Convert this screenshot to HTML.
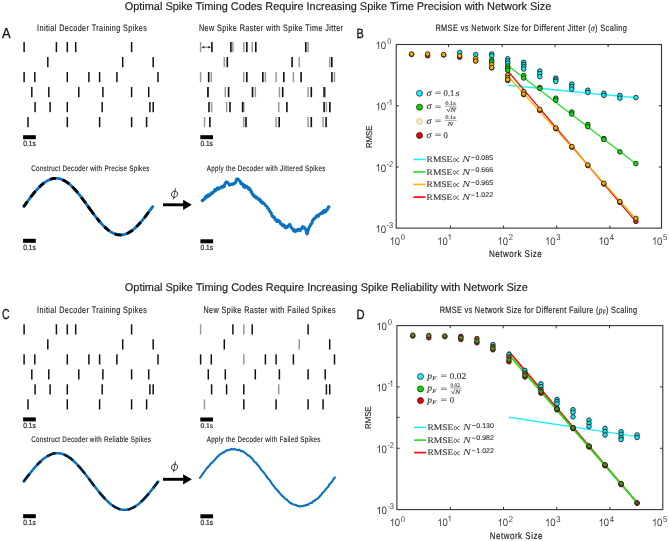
<!DOCTYPE html>
<html><head><meta charset="utf-8"><style>
html,body{margin:0;padding:0;background:#fff;}
svg{display:block;will-change:transform;text-rendering:geometricPrecision;}
</style></head><body>
<svg width="669" height="541" viewBox="0 0 669 541">
<rect width="669" height="541" fill="#fff"/>
<text x="0" y="0" transform="translate(124.8 9.6) scale(1.0 1.12)" font-family="Liberation Sans" font-size="10.0" text-anchor="start" fill="#1e1e1e" textLength="426.5" lengthAdjust="spacingAndGlyphs" stroke="#1e1e1e" stroke-width="0.15">Optimal Spike Timing Codes Require Increasing Spike Time Precision with Network Size</text>
<text x="0" y="0" transform="translate(124.8 290.9) scale(1.0 1.12)" font-family="Liberation Sans" font-size="10.0" text-anchor="start" fill="#1e1e1e" textLength="403" lengthAdjust="spacingAndGlyphs" stroke="#1e1e1e" stroke-width="0.15">Optimal Spike Timing Codes Require Increasing Spike Reliability with Network Size</text>
<text x="2.0" y="38.0" font-family="Liberation Sans" font-size="14.4" text-anchor="start" fill="#111" textLength="8.6" lengthAdjust="spacingAndGlyphs" stroke="#111" stroke-width="0.3">A</text>
<text x="356.6" y="37.7" font-family="Liberation Sans" font-size="13.4" text-anchor="start" fill="#111" textLength="7.3" lengthAdjust="spacingAndGlyphs" stroke="#111" stroke-width="0.3">B</text>
<text x="2.1" y="319.1" font-family="Liberation Sans" font-size="14.4" text-anchor="start" fill="#111" textLength="7.6" lengthAdjust="spacingAndGlyphs" stroke="#111" stroke-width="0.3">C</text>
<text x="356.6" y="318.9" font-family="Liberation Sans" font-size="13.4" text-anchor="start" fill="#111" textLength="8.1" lengthAdjust="spacingAndGlyphs" stroke="#111" stroke-width="0.3">D</text>
<text x="0" y="0" transform="translate(37.1 30.8) scale(0.88 1.14)" font-family="Liberation Sans" font-size="8.2" text-anchor="start" fill="#1a1a1a" textLength="124.66" lengthAdjust="spacing" stroke="#1a1a1a" stroke-width="0.12">Initial Decoder Training Spikes</text>
<text x="0" y="0" transform="translate(199 31.2) scale(0.88 1.14)" font-family="Liberation Sans" font-size="8.2" text-anchor="start" fill="#1a1a1a" textLength="163.64" lengthAdjust="spacing" stroke="#1a1a1a" stroke-width="0.12">New Spike Raster with Spike Time Jitter</text>
<text x="0" y="0" transform="translate(37.1 312.9) scale(0.88 1.14)" font-family="Liberation Sans" font-size="8.2" text-anchor="start" fill="#1a1a1a" textLength="124.66" lengthAdjust="spacing" stroke="#1a1a1a" stroke-width="0.12">Initial Decoder Training Spikes</text>
<text x="0" y="0" transform="translate(203.5 313.2) scale(0.88 1.14)" font-family="Liberation Sans" font-size="8.2" text-anchor="start" fill="#1a1a1a" textLength="150.00" lengthAdjust="spacing" stroke="#1a1a1a" stroke-width="0.12">New Spike Raster with Failed Spikes</text>
<text x="0" y="0" transform="translate(31.2 171.3) scale(0.88 1.13)" font-family="Liberation Sans" font-size="7.1" text-anchor="start" fill="#1a1a1a" textLength="134.32" lengthAdjust="spacing" stroke="#1a1a1a" stroke-width="0.12">Construct Decoder with Precise Spikes</text>
<text x="0" y="0" transform="translate(206.8 171.3) scale(0.88 1.13)" font-family="Liberation Sans" font-size="7.1" text-anchor="start" fill="#1a1a1a" textLength="134.77" lengthAdjust="spacing" stroke="#1a1a1a" stroke-width="0.12">Apply the Decoder with Jittered Spikes</text>
<text x="0" y="0" transform="translate(31.2 441.7) scale(0.88 1.13)" font-family="Liberation Sans" font-size="7.1" text-anchor="start" fill="#1a1a1a" textLength="136.02" lengthAdjust="spacing" stroke="#1a1a1a" stroke-width="0.12">Construct Decoder with Reliable Spikes</text>
<text x="0" y="0" transform="translate(206.8 441.7) scale(0.88 1.13)" font-family="Liberation Sans" font-size="7.1" text-anchor="start" fill="#1a1a1a" textLength="129.20" lengthAdjust="spacing" stroke="#1a1a1a" stroke-width="0.12">Apply the Decoder with Failed Spikes</text>
<rect x="23.35" y="42.00" width="1.5" height="10.2" fill="#111"/>
<rect x="55.65" y="42.00" width="1.5" height="10.2" fill="#111"/>
<rect x="66.55" y="42.00" width="1.5" height="10.2" fill="#111"/>
<rect x="74.95" y="42.00" width="1.5" height="10.2" fill="#111"/>
<rect x="130.85" y="42.00" width="1.5" height="10.2" fill="#111"/>
<rect x="47.05" y="57.00" width="1.5" height="10.2" fill="#111"/>
<rect x="121.95" y="57.00" width="1.5" height="10.2" fill="#111"/>
<rect x="152.45" y="57.00" width="1.5" height="10.2" fill="#111"/>
<rect x="23.35" y="72.00" width="1.5" height="10.2" fill="#111"/>
<rect x="34.05" y="72.00" width="1.5" height="10.2" fill="#111"/>
<rect x="66.55" y="72.00" width="1.5" height="10.2" fill="#111"/>
<rect x="88.15" y="72.00" width="1.5" height="10.2" fill="#111"/>
<rect x="98.85" y="72.00" width="1.5" height="10.2" fill="#111"/>
<rect x="116.15" y="72.00" width="1.5" height="10.2" fill="#111"/>
<rect x="157.25" y="72.00" width="1.5" height="10.2" fill="#111"/>
<rect x="31.05" y="87.00" width="1.5" height="10.2" fill="#111"/>
<rect x="48.05" y="87.00" width="1.5" height="10.2" fill="#111"/>
<rect x="78.05" y="87.00" width="1.5" height="10.2" fill="#111"/>
<rect x="102.15" y="87.00" width="1.5" height="10.2" fill="#111"/>
<rect x="130.85" y="87.00" width="1.5" height="10.2" fill="#111"/>
<rect x="147.95" y="87.00" width="1.5" height="10.2" fill="#111"/>
<rect x="34.35" y="102.00" width="1.5" height="10.2" fill="#111"/>
<rect x="49.35" y="102.00" width="1.5" height="10.2" fill="#111"/>
<rect x="66.55" y="102.00" width="1.5" height="10.2" fill="#111"/>
<rect x="101.45" y="102.00" width="1.5" height="10.2" fill="#111"/>
<rect x="149.15" y="102.00" width="1.5" height="10.2" fill="#111"/>
<rect x="152.45" y="102.00" width="1.5" height="10.2" fill="#111"/>
<rect x="27.25" y="117.00" width="1.5" height="10.2" fill="#111"/>
<rect x="66.55" y="117.00" width="1.5" height="10.2" fill="#111"/>
<rect x="98.85" y="117.00" width="1.5" height="10.2" fill="#111"/>
<rect x="130.85" y="117.00" width="1.5" height="10.2" fill="#111"/>
<rect x="145.85" y="117.00" width="1.5" height="10.2" fill="#111"/>
<rect x="199.85" y="42.00" width="1.5" height="10.2" fill="#9a9a9a"/>
<rect x="232.15" y="42.00" width="1.5" height="10.2" fill="#9a9a9a"/>
<rect x="243.05" y="42.00" width="1.5" height="10.2" fill="#9a9a9a"/>
<rect x="251.45" y="42.00" width="1.5" height="10.2" fill="#9a9a9a"/>
<rect x="307.35" y="42.00" width="1.5" height="10.2" fill="#9a9a9a"/>
<rect x="211.10" y="42.00" width="1.6" height="10.2" fill="#111"/>
<rect x="230.10" y="42.00" width="1.6" height="10.2" fill="#111"/>
<rect x="246.00" y="42.00" width="1.6" height="10.2" fill="#111"/>
<rect x="255.00" y="42.00" width="1.6" height="10.2" fill="#111"/>
<rect x="305.00" y="42.00" width="1.6" height="10.2" fill="#111"/>
<rect x="223.55" y="57.00" width="1.5" height="10.2" fill="#9a9a9a"/>
<rect x="298.45" y="57.00" width="1.5" height="10.2" fill="#9a9a9a"/>
<rect x="328.95" y="57.00" width="1.5" height="10.2" fill="#9a9a9a"/>
<rect x="226.50" y="57.00" width="1.6" height="10.2" fill="#111"/>
<rect x="291.30" y="57.00" width="1.6" height="10.2" fill="#111"/>
<rect x="331.00" y="57.00" width="1.6" height="10.2" fill="#111"/>
<rect x="199.85" y="72.00" width="1.5" height="10.2" fill="#9a9a9a"/>
<rect x="210.55" y="72.00" width="1.5" height="10.2" fill="#9a9a9a"/>
<rect x="243.05" y="72.00" width="1.5" height="10.2" fill="#9a9a9a"/>
<rect x="264.65" y="72.00" width="1.5" height="10.2" fill="#9a9a9a"/>
<rect x="275.35" y="72.00" width="1.5" height="10.2" fill="#9a9a9a"/>
<rect x="292.65" y="72.00" width="1.5" height="10.2" fill="#9a9a9a"/>
<rect x="333.75" y="72.00" width="1.5" height="10.2" fill="#9a9a9a"/>
<rect x="207.90" y="72.00" width="1.6" height="10.2" fill="#111"/>
<rect x="246.00" y="72.00" width="1.6" height="10.2" fill="#111"/>
<rect x="262.00" y="72.00" width="1.6" height="10.2" fill="#111"/>
<rect x="283.00" y="72.00" width="1.6" height="10.2" fill="#111"/>
<rect x="300.30" y="72.00" width="1.6" height="10.2" fill="#111"/>
<rect x="331.10" y="72.00" width="1.6" height="10.2" fill="#111"/>
<rect x="207.55" y="87.00" width="1.5" height="10.2" fill="#9a9a9a"/>
<rect x="224.55" y="87.00" width="1.5" height="10.2" fill="#9a9a9a"/>
<rect x="254.55" y="87.00" width="1.5" height="10.2" fill="#9a9a9a"/>
<rect x="278.65" y="87.00" width="1.5" height="10.2" fill="#9a9a9a"/>
<rect x="307.35" y="87.00" width="1.5" height="10.2" fill="#9a9a9a"/>
<rect x="324.45" y="87.00" width="1.5" height="10.2" fill="#9a9a9a"/>
<rect x="207.10" y="87.00" width="1.6" height="10.2" fill="#111"/>
<rect x="227.80" y="87.00" width="1.6" height="10.2" fill="#111"/>
<rect x="251.70" y="87.00" width="1.6" height="10.2" fill="#111"/>
<rect x="281.90" y="87.00" width="1.6" height="10.2" fill="#111"/>
<rect x="310.50" y="87.00" width="1.6" height="10.2" fill="#111"/>
<rect x="323.30" y="87.00" width="1.6" height="10.2" fill="#111"/>
<rect x="210.85" y="102.00" width="1.5" height="10.2" fill="#9a9a9a"/>
<rect x="225.85" y="102.00" width="1.5" height="10.2" fill="#9a9a9a"/>
<rect x="243.05" y="102.00" width="1.5" height="10.2" fill="#9a9a9a"/>
<rect x="277.95" y="102.00" width="1.5" height="10.2" fill="#9a9a9a"/>
<rect x="325.65" y="102.00" width="1.5" height="10.2" fill="#9a9a9a"/>
<rect x="328.95" y="102.00" width="1.5" height="10.2" fill="#9a9a9a"/>
<rect x="208.20" y="102.00" width="1.6" height="10.2" fill="#111"/>
<rect x="229.20" y="102.00" width="1.6" height="10.2" fill="#111"/>
<rect x="241.80" y="102.00" width="1.6" height="10.2" fill="#111"/>
<rect x="286.10" y="102.00" width="1.6" height="10.2" fill="#111"/>
<rect x="323.30" y="102.00" width="1.6" height="10.2" fill="#111"/>
<rect x="329.00" y="102.00" width="1.6" height="10.2" fill="#111"/>
<rect x="203.75" y="117.00" width="1.5" height="10.2" fill="#9a9a9a"/>
<rect x="243.05" y="117.00" width="1.5" height="10.2" fill="#9a9a9a"/>
<rect x="275.35" y="117.00" width="1.5" height="10.2" fill="#9a9a9a"/>
<rect x="307.35" y="117.00" width="1.5" height="10.2" fill="#9a9a9a"/>
<rect x="322.35" y="117.00" width="1.5" height="10.2" fill="#9a9a9a"/>
<rect x="209.10" y="117.00" width="1.6" height="10.2" fill="#111"/>
<rect x="245.20" y="117.00" width="1.6" height="10.2" fill="#111"/>
<rect x="278.40" y="117.00" width="1.6" height="10.2" fill="#111"/>
<rect x="310.50" y="117.00" width="1.6" height="10.2" fill="#111"/>
<rect x="325.30" y="117.00" width="1.6" height="10.2" fill="#111"/>
<line x1="203.2" y1="47.2" x2="209.4" y2="47.2" stroke="#333" stroke-width="0.75"/>
<path d="M201.7,47.2 L204.2,46.0 L204.2,48.4 Z M210.9,47.2 L208.4,46.0 L208.4,48.4 Z" fill="#111"/>
<rect x="23.35" y="324.30" width="1.5" height="10.2" fill="#111"/>
<rect x="55.65" y="324.30" width="1.5" height="10.2" fill="#111"/>
<rect x="66.55" y="324.30" width="1.5" height="10.2" fill="#111"/>
<rect x="74.95" y="324.30" width="1.5" height="10.2" fill="#111"/>
<rect x="130.85" y="324.30" width="1.5" height="10.2" fill="#111"/>
<rect x="47.05" y="339.30" width="1.5" height="10.2" fill="#111"/>
<rect x="121.95" y="339.30" width="1.5" height="10.2" fill="#111"/>
<rect x="152.45" y="339.30" width="1.5" height="10.2" fill="#111"/>
<rect x="23.35" y="354.30" width="1.5" height="10.2" fill="#111"/>
<rect x="34.05" y="354.30" width="1.5" height="10.2" fill="#111"/>
<rect x="66.55" y="354.30" width="1.5" height="10.2" fill="#111"/>
<rect x="88.15" y="354.30" width="1.5" height="10.2" fill="#111"/>
<rect x="98.85" y="354.30" width="1.5" height="10.2" fill="#111"/>
<rect x="116.15" y="354.30" width="1.5" height="10.2" fill="#111"/>
<rect x="157.25" y="354.30" width="1.5" height="10.2" fill="#111"/>
<rect x="31.05" y="369.30" width="1.5" height="10.2" fill="#111"/>
<rect x="48.05" y="369.30" width="1.5" height="10.2" fill="#111"/>
<rect x="78.05" y="369.30" width="1.5" height="10.2" fill="#111"/>
<rect x="102.15" y="369.30" width="1.5" height="10.2" fill="#111"/>
<rect x="130.85" y="369.30" width="1.5" height="10.2" fill="#111"/>
<rect x="147.95" y="369.30" width="1.5" height="10.2" fill="#111"/>
<rect x="34.35" y="384.30" width="1.5" height="10.2" fill="#111"/>
<rect x="49.35" y="384.30" width="1.5" height="10.2" fill="#111"/>
<rect x="66.55" y="384.30" width="1.5" height="10.2" fill="#111"/>
<rect x="101.45" y="384.30" width="1.5" height="10.2" fill="#111"/>
<rect x="149.15" y="384.30" width="1.5" height="10.2" fill="#111"/>
<rect x="152.45" y="384.30" width="1.5" height="10.2" fill="#111"/>
<rect x="27.25" y="399.30" width="1.5" height="10.2" fill="#111"/>
<rect x="66.55" y="399.30" width="1.5" height="10.2" fill="#111"/>
<rect x="98.85" y="399.30" width="1.5" height="10.2" fill="#111"/>
<rect x="130.85" y="399.30" width="1.5" height="10.2" fill="#111"/>
<rect x="145.85" y="399.30" width="1.5" height="10.2" fill="#111"/>
<rect x="199.85" y="324.30" width="1.5" height="10.2" fill="#9a9a9a"/>
<rect x="232.15" y="324.30" width="1.5" height="10.2" fill="#111"/>
<rect x="243.05" y="324.30" width="1.5" height="10.2" fill="#9a9a9a"/>
<rect x="251.45" y="324.30" width="1.5" height="10.2" fill="#111"/>
<rect x="307.35" y="324.30" width="1.5" height="10.2" fill="#111"/>
<rect x="223.55" y="339.30" width="1.5" height="10.2" fill="#111"/>
<rect x="298.45" y="339.30" width="1.5" height="10.2" fill="#9a9a9a"/>
<rect x="328.95" y="339.30" width="1.5" height="10.2" fill="#111"/>
<rect x="199.85" y="354.30" width="1.5" height="10.2" fill="#111"/>
<rect x="210.55" y="354.30" width="1.5" height="10.2" fill="#111"/>
<rect x="243.05" y="354.30" width="1.5" height="10.2" fill="#9a9a9a"/>
<rect x="264.65" y="354.30" width="1.5" height="10.2" fill="#111"/>
<rect x="275.35" y="354.30" width="1.5" height="10.2" fill="#111"/>
<rect x="292.65" y="354.30" width="1.5" height="10.2" fill="#111"/>
<rect x="333.75" y="354.30" width="1.5" height="10.2" fill="#111"/>
<rect x="207.55" y="369.30" width="1.5" height="10.2" fill="#111"/>
<rect x="224.55" y="369.30" width="1.5" height="10.2" fill="#111"/>
<rect x="254.55" y="369.30" width="1.5" height="10.2" fill="#111"/>
<rect x="278.65" y="369.30" width="1.5" height="10.2" fill="#111"/>
<rect x="307.35" y="369.30" width="1.5" height="10.2" fill="#111"/>
<rect x="324.45" y="369.30" width="1.5" height="10.2" fill="#111"/>
<rect x="210.85" y="384.30" width="1.5" height="10.2" fill="#111"/>
<rect x="225.85" y="384.30" width="1.5" height="10.2" fill="#111"/>
<rect x="243.05" y="384.30" width="1.5" height="10.2" fill="#111"/>
<rect x="277.95" y="384.30" width="1.5" height="10.2" fill="#9a9a9a"/>
<rect x="325.65" y="384.30" width="1.5" height="10.2" fill="#111"/>
<rect x="328.95" y="384.30" width="1.5" height="10.2" fill="#111"/>
<rect x="203.75" y="399.30" width="1.5" height="10.2" fill="#9a9a9a"/>
<rect x="243.05" y="399.30" width="1.5" height="10.2" fill="#111"/>
<rect x="275.35" y="399.30" width="1.5" height="10.2" fill="#111"/>
<rect x="307.35" y="399.30" width="1.5" height="10.2" fill="#111"/>
<rect x="322.35" y="399.30" width="1.5" height="10.2" fill="#111"/>
<rect x="23.1" y="135.2" width="12.7" height="4" fill="#000"/>
<text x="0" y="0" transform="translate(23.200000000000003 146.0) scale(1.0 1.1)" font-family="Liberation Sans" font-size="6.9" text-anchor="start" fill="#1a1a1a" textLength="12.5" lengthAdjust="spacingAndGlyphs" stroke="#1a1a1a" stroke-width="0.15">0.1s</text>
<rect x="200.3" y="135.2" width="12.7" height="4" fill="#000"/>
<text x="0" y="0" transform="translate(200.4 146.0) scale(1.0 1.1)" font-family="Liberation Sans" font-size="6.9" text-anchor="start" fill="#1a1a1a" textLength="12.5" lengthAdjust="spacingAndGlyphs" stroke="#1a1a1a" stroke-width="0.15">0.1s</text>
<rect x="23.1" y="238.8" width="12.7" height="4" fill="#000"/>
<text x="0" y="0" transform="translate(23.200000000000003 249.6) scale(1.0 1.1)" font-family="Liberation Sans" font-size="6.9" text-anchor="start" fill="#1a1a1a" textLength="12.5" lengthAdjust="spacingAndGlyphs" stroke="#1a1a1a" stroke-width="0.15">0.1s</text>
<rect x="200.4" y="239.3" width="12.7" height="4" fill="#000"/>
<text x="0" y="0" transform="translate(200.5 249.9) scale(1.0 1.1)" font-family="Liberation Sans" font-size="6.9" text-anchor="start" fill="#1a1a1a" textLength="12.5" lengthAdjust="spacingAndGlyphs" stroke="#1a1a1a" stroke-width="0.15">0.1s</text>
<rect x="23.1" y="417.4" width="12.7" height="4" fill="#000"/>
<text x="0" y="0" transform="translate(23.200000000000003 428.2) scale(1.0 1.1)" font-family="Liberation Sans" font-size="6.9" text-anchor="start" fill="#1a1a1a" textLength="12.5" lengthAdjust="spacingAndGlyphs" stroke="#1a1a1a" stroke-width="0.15">0.1s</text>
<rect x="200.3" y="417.5" width="12.7" height="4" fill="#000"/>
<text x="0" y="0" transform="translate(200.4 428.2) scale(1.0 1.1)" font-family="Liberation Serif" font-size="6.6" text-anchor="start" fill="#1a1a1a" textLength="12.5" lengthAdjust="spacingAndGlyphs" stroke="#1a1a1a" stroke-width="0.15" text-rendering="geometricPrecision">0.1s</text>
<rect x="23.1" y="514.2" width="12.7" height="4" fill="#000"/>
<text x="0" y="0" transform="translate(23.200000000000003 524.8) scale(1.0 1.1)" font-family="Liberation Sans" font-size="6.9" text-anchor="start" fill="#1a1a1a" textLength="12.5" lengthAdjust="spacingAndGlyphs" stroke="#1a1a1a" stroke-width="0.15">0.1s</text>
<rect x="200.4" y="514.3" width="12.7" height="4" fill="#000"/>
<text x="0" y="0" transform="translate(200.5 524.9) scale(1.0 1.1)" font-family="Liberation Sans" font-size="6.9" text-anchor="start" fill="#1a1a1a" textLength="12.5" lengthAdjust="spacingAndGlyphs" stroke="#1a1a1a" stroke-width="0.15">0.1s</text>
<path d="M23.70,206.60 L24.77,205.12 L25.85,203.64 L26.93,202.17 L28.00,200.72 L29.07,199.28 L30.15,197.85 L31.23,196.46 L32.30,195.09 L33.38,193.75 L34.45,192.45 L35.52,191.19 L36.60,189.97 L37.67,188.79 L38.75,187.66 L39.83,186.59 L40.90,185.57 L41.97,184.61 L43.05,183.70 L44.12,182.87 L45.20,182.09 L46.27,181.38 L47.35,180.75 L48.42,180.18 L49.50,179.69 L50.58,179.26 L51.65,178.92 L52.73,178.65 L53.80,178.46 L54.88,178.34 L55.95,178.30 L57.03,178.34 L58.10,178.46 L59.17,178.65 L60.25,178.92 L61.33,179.26 L62.40,179.69 L63.47,180.18 L64.55,180.75 L65.62,181.38 L66.70,182.09 L67.78,182.87 L68.85,183.70 L69.92,184.61 L71.00,185.57 L72.08,186.59 L73.15,187.66 L74.22,188.79 L75.30,189.97 L76.38,191.19 L77.45,192.45 L78.52,193.75 L79.60,195.09 L80.67,196.46 L81.75,197.85 L82.83,199.28 L83.90,200.72 L84.97,202.17 L86.05,203.64 L87.12,205.12 L88.20,206.60 L89.28,208.08 L90.35,209.56 L91.43,211.03 L92.50,212.48 L93.58,213.92 L94.65,215.35 L95.73,216.74 L96.80,218.11 L97.88,219.45 L98.95,220.75 L100.03,222.01 L101.10,223.23 L102.17,224.41 L103.25,225.54 L104.33,226.61 L105.40,227.63 L106.48,228.59 L107.55,229.50 L108.62,230.33 L109.70,231.11 L110.78,231.82 L111.85,232.45 L112.92,233.02 L114.00,233.51 L115.08,233.94 L116.15,234.28 L117.22,234.55 L118.30,234.74 L119.38,234.86 L120.45,234.90 L121.53,234.86 L122.60,234.74 L123.68,234.55 L124.75,234.28 L125.83,233.94 L126.90,233.51 L127.98,233.02 L129.05,232.45 L130.12,231.82 L131.20,231.11 L132.28,230.33 L133.35,229.50 L134.42,228.59 L135.50,227.63 L136.57,226.61 L137.65,225.54 L138.72,224.41 L139.80,223.23 L140.88,222.01 L141.95,220.75 L143.03,219.45 L144.10,218.11 L145.17,216.74 L146.25,215.35 L147.32,213.92 L148.40,212.48 L149.47,211.03 L150.55,209.56 L151.62,208.08 L152.70,206.60" fill="none" stroke="#0a72c0" stroke-width="2.8" stroke-linecap="round"/>
<path d="M23.70,206.60 L24.77,205.12 L25.85,203.64 L26.93,202.17 L28.00,200.72 L29.07,199.28 L30.15,197.85 L31.23,196.46 L32.30,195.09 L33.38,193.75 L34.45,192.45 L35.52,191.19 L36.60,189.97 L37.67,188.79 L38.75,187.66 L39.83,186.59 L40.90,185.57 L41.97,184.61 L43.05,183.70 L44.12,182.87 L45.20,182.09 L46.27,181.38 L47.35,180.75 L48.42,180.18 L49.50,179.69 L50.58,179.26 L51.65,178.92 L52.73,178.65 L53.80,178.46 L54.88,178.34 L55.95,178.30 L57.03,178.34 L58.10,178.46 L59.17,178.65 L60.25,178.92 L61.33,179.26 L62.40,179.69 L63.47,180.18 L64.55,180.75 L65.62,181.38 L66.70,182.09 L67.78,182.87 L68.85,183.70 L69.92,184.61 L71.00,185.57 L72.08,186.59 L73.15,187.66 L74.22,188.79 L75.30,189.97 L76.38,191.19 L77.45,192.45 L78.52,193.75 L79.60,195.09 L80.67,196.46 L81.75,197.85 L82.83,199.28 L83.90,200.72 L84.97,202.17 L86.05,203.64 L87.12,205.12 L88.20,206.60 L89.28,208.08 L90.35,209.56 L91.43,211.03 L92.50,212.48 L93.58,213.92 L94.65,215.35 L95.73,216.74 L96.80,218.11 L97.88,219.45 L98.95,220.75 L100.03,222.01 L101.10,223.23 L102.17,224.41 L103.25,225.54 L104.33,226.61 L105.40,227.63 L106.48,228.59 L107.55,229.50 L108.62,230.33 L109.70,231.11 L110.78,231.82 L111.85,232.45 L112.92,233.02 L114.00,233.51 L115.08,233.94 L116.15,234.28 L117.22,234.55 L118.30,234.74 L119.38,234.86 L120.45,234.90 L121.53,234.86 L122.60,234.74 L123.68,234.55 L124.75,234.28 L125.83,233.94 L126.90,233.51 L127.98,233.02 L129.05,232.45 L130.12,231.82 L131.20,231.11 L132.28,230.33 L133.35,229.50 L134.42,228.59 L135.50,227.63 L136.57,226.61 L137.65,225.54 L138.72,224.41 L139.80,223.23 L140.88,222.01 L141.95,220.75 L143.03,219.45 L144.10,218.11 L145.17,216.74 L146.25,215.35 L147.32,213.92 L148.40,212.48 L149.47,211.03 L150.55,209.56 L151.62,208.08 L152.70,206.60" fill="none" stroke="#000" stroke-width="2.8" stroke-dasharray="6.3 5.5 7.6 5.5 6.4 7.0 6.2 6.6 7.7 4.3 8.2 5.9 7.0 3.9 10.1 4.7 5.0 6.6 6.4 6.2 7.3 5.1 6.9 4.8 6.4 5.7 7.4 100"/>
<path d="M23.70,481.50 L24.82,480.02 L25.94,478.54 L27.06,477.07 L28.18,475.62 L29.30,474.18 L30.43,472.75 L31.55,471.36 L32.67,469.99 L33.79,468.65 L34.91,467.35 L36.03,466.09 L37.15,464.87 L38.27,463.69 L39.39,462.56 L40.51,461.49 L41.63,460.47 L42.75,459.51 L43.88,458.60 L45.00,457.77 L46.12,456.99 L47.24,456.28 L48.36,455.65 L49.48,455.08 L50.60,454.59 L51.72,454.16 L52.84,453.82 L53.96,453.55 L55.08,453.36 L56.20,453.24 L57.33,453.20 L58.45,453.24 L59.57,453.36 L60.69,453.55 L61.81,453.82 L62.93,454.16 L64.05,454.59 L65.17,455.08 L66.29,455.65 L67.41,456.28 L68.53,456.99 L69.65,457.77 L70.77,458.60 L71.90,459.51 L73.02,460.47 L74.14,461.49 L75.26,462.56 L76.38,463.69 L77.50,464.87 L78.62,466.09 L79.74,467.35 L80.86,468.65 L81.98,469.99 L83.10,471.36 L84.22,472.75 L85.35,474.18 L86.47,475.62 L87.59,477.07 L88.71,478.54 L89.83,480.02 L90.95,481.50 L92.07,482.98 L93.19,484.46 L94.31,485.93 L95.43,487.38 L96.55,488.82 L97.68,490.25 L98.80,491.64 L99.92,493.01 L101.04,494.35 L102.16,495.65 L103.28,496.91 L104.40,498.13 L105.52,499.31 L106.64,500.44 L107.76,501.51 L108.88,502.53 L110.00,503.49 L111.12,504.40 L112.25,505.23 L113.37,506.01 L114.49,506.72 L115.61,507.35 L116.73,507.92 L117.85,508.41 L118.97,508.84 L120.09,509.18 L121.21,509.45 L122.33,509.64 L123.45,509.76 L124.58,509.80 L125.70,509.76 L126.82,509.64 L127.94,509.45 L129.06,509.18 L130.18,508.84 L131.30,508.41 L132.42,507.92 L133.54,507.35 L134.66,506.72 L135.78,506.01 L136.90,505.23 L138.03,504.40 L139.15,503.49 L140.27,502.53 L141.39,501.51 L142.51,500.44 L143.63,499.31 L144.75,498.13 L145.87,496.91 L146.99,495.65 L148.11,494.35 L149.23,493.01 L150.35,491.64 L151.47,490.25 L152.60,488.82 L153.72,487.38 L154.84,485.93 L155.96,484.46 L157.08,482.98 L158.20,481.50" fill="none" stroke="#0a72c0" stroke-width="2.5" stroke-linecap="round"/>
<path d="M23.70,481.50 L24.82,480.02 L25.94,478.54 L27.06,477.07 L28.18,475.62 L29.30,474.18 L30.43,472.75 L31.55,471.36 L32.67,469.99 L33.79,468.65 L34.91,467.35 L36.03,466.09 L37.15,464.87 L38.27,463.69 L39.39,462.56 L40.51,461.49 L41.63,460.47 L42.75,459.51 L43.88,458.60 L45.00,457.77 L46.12,456.99 L47.24,456.28 L48.36,455.65 L49.48,455.08 L50.60,454.59 L51.72,454.16 L52.84,453.82 L53.96,453.55 L55.08,453.36 L56.20,453.24 L57.33,453.20 L58.45,453.24 L59.57,453.36 L60.69,453.55 L61.81,453.82 L62.93,454.16 L64.05,454.59 L65.17,455.08 L66.29,455.65 L67.41,456.28 L68.53,456.99 L69.65,457.77 L70.77,458.60 L71.90,459.51 L73.02,460.47 L74.14,461.49 L75.26,462.56 L76.38,463.69 L77.50,464.87 L78.62,466.09 L79.74,467.35 L80.86,468.65 L81.98,469.99 L83.10,471.36 L84.22,472.75 L85.35,474.18 L86.47,475.62 L87.59,477.07 L88.71,478.54 L89.83,480.02 L90.95,481.50 L92.07,482.98 L93.19,484.46 L94.31,485.93 L95.43,487.38 L96.55,488.82 L97.68,490.25 L98.80,491.64 L99.92,493.01 L101.04,494.35 L102.16,495.65 L103.28,496.91 L104.40,498.13 L105.52,499.31 L106.64,500.44 L107.76,501.51 L108.88,502.53 L110.00,503.49 L111.12,504.40 L112.25,505.23 L113.37,506.01 L114.49,506.72 L115.61,507.35 L116.73,507.92 L117.85,508.41 L118.97,508.84 L120.09,509.18 L121.21,509.45 L122.33,509.64 L123.45,509.76 L124.58,509.80 L125.70,509.76 L126.82,509.64 L127.94,509.45 L129.06,509.18 L130.18,508.84 L131.30,508.41 L132.42,507.92 L133.54,507.35 L134.66,506.72 L135.78,506.01 L136.90,505.23 L138.03,504.40 L139.15,503.49 L140.27,502.53 L141.39,501.51 L142.51,500.44 L143.63,499.31 L144.75,498.13 L145.87,496.91 L146.99,495.65 L148.11,494.35 L149.23,493.01 L150.35,491.64 L151.47,490.25 L152.60,488.82 L153.72,487.38 L154.84,485.93 L155.96,484.46 L157.08,482.98 L158.20,481.50" fill="none" stroke="#0b2038" stroke-width="2.5" stroke-dasharray="9.9 11 5.8 7.9 9.2 8.3 10.8 6.7 11.3 6.1 9.6 7.4 9.5 9.3 8.9 7.4 9.2 6.4 11.6 7 8.1 100"/>
<path d="M202.10,200.62 L202.71,200.68 L203.32,199.67 L203.93,199.56 L204.54,198.99 L205.16,197.13 L205.77,196.40 L206.38,197.59 L206.99,195.69 L207.60,195.02 L208.22,196.39 L208.84,194.93 L209.46,195.44 L210.08,194.35 L210.70,194.41 L211.30,192.80 L211.90,193.34 L212.50,193.32 L213.10,192.04 L213.70,191.99 L214.30,191.31 L214.90,189.44 L215.55,190.58 L216.20,189.83 L216.85,188.80 L217.50,187.82 L218.15,189.27 L218.80,188.02 L219.45,188.17 L220.10,188.13 L220.70,187.54 L221.30,187.77 L221.90,186.38 L222.50,187.05 L223.10,186.04 L223.70,186.89 L224.30,186.53 L224.95,183.76 L225.60,182.80 L226.25,181.93 L226.90,182.52 L227.55,182.28 L228.20,183.63 L228.85,183.84 L229.50,185.22 L230.14,184.63 L230.78,184.23 L231.42,184.43 L232.06,184.11 L232.70,184.49 L233.35,183.60 L234.00,183.74 L234.65,183.18 L235.30,183.08 L235.95,181.33 L236.60,179.16 L237.25,179.64 L237.90,178.82 L238.52,179.75 L239.14,180.07 L239.76,181.45 L240.38,181.40 L241.00,183.83 L241.64,183.88 L242.28,183.87 L242.92,184.00 L243.56,186.36 L244.20,187.28 L244.80,185.48 L245.40,187.23 L246.00,186.55 L246.60,186.17 L247.20,186.66 L247.80,187.89 L248.42,188.90 L249.03,187.86 L249.65,189.90 L250.27,189.43 L250.88,191.70 L251.50,191.63 L252.12,193.70 L252.73,194.79 L253.35,194.61 L253.97,196.56 L254.58,195.91 L255.20,196.27 L255.87,197.86 L256.54,197.05 L257.21,197.86 L257.89,198.77 L258.56,199.66 L259.23,199.10 L259.90,199.29 L260.56,201.64 L261.21,200.95 L261.87,202.89 L262.53,203.29 L263.19,202.67 L263.84,203.38 L264.50,204.04 L265.16,204.98 L265.82,205.53 L266.48,206.11 L267.14,206.90 L267.80,208.27 L268.52,208.72 L269.25,209.95 L269.98,211.98 L270.70,212.32 L271.40,213.59 L272.10,216.20 L272.80,216.32 L273.50,217.51 L274.16,217.11 L274.82,218.77 L275.48,219.92 L276.14,219.46 L276.80,221.55 L277.50,221.59 L278.20,220.33 L278.90,221.58 L279.60,221.23 L280.70,223.99 L281.40,223.83 L282.10,225.16 L282.80,225.77 L283.50,224.75 L284.18,225.17 L284.86,226.87 L285.54,227.84 L286.22,226.61 L286.90,227.40 L287.60,227.00 L288.30,225.70 L289.00,225.10 L289.70,224.29 L290.47,225.71 L291.23,227.51 L292.00,228.16 L292.70,229.03 L293.40,230.60 L294.10,229.66 L294.80,231.55 L295.46,231.60 L296.12,230.34 L296.78,229.83 L297.44,230.79 L298.10,229.23 L298.80,229.24 L299.50,229.91 L300.20,230.61 L300.90,229.42 L301.75,228.26 L302.60,226.63 L303.33,227.90 L304.07,227.20 L304.80,228.28 L305.50,228.84 L306.20,231.27 L306.90,234.03 L307.50,233.00 L308.10,230.49 L308.70,228.45 L309.30,226.67 L309.98,226.23 L310.66,224.14 L311.34,224.15 L312.02,222.88 L312.70,220.10 L313.43,219.18 L314.17,219.21 L314.90,217.71 L315.58,217.73 L316.26,216.38 L316.94,215.57 L317.62,215.58 L318.30,216.35 L318.98,214.64 L319.66,214.24 L320.34,213.84 L321.02,213.28 L321.70,212.70 L322.35,213.46 L323.00,211.41 L323.65,210.71 L324.30,212.41 L324.95,211.90 L325.60,211.77 L326.28,209.78 L326.96,210.13 L327.64,209.30 L328.32,206.97 L329.00,206.80" fill="none" stroke="#0a72c0" stroke-width="3.0" stroke-linejoin="round" stroke-linecap="round"/>
<path d="M199.90,477.85 L200.86,476.66 L201.83,475.21 L202.79,473.79 L203.76,472.30 L204.72,471.10 L205.69,469.75 L206.65,468.36 L207.61,467.67 L208.58,466.19 L209.54,465.54 L210.51,463.64 L211.47,463.39 L212.44,462.09 L213.40,461.27 L214.36,460.23 L215.33,459.25 L216.29,457.98 L217.26,456.51 L218.22,456.38 L219.19,454.99 L220.15,454.34 L221.11,453.98 L222.08,453.16 L223.04,452.42 L224.01,452.36 L224.97,451.51 L225.94,450.76 L226.90,450.25 L227.86,450.49 L228.83,449.79 L229.79,449.84 L230.76,449.21 L231.72,448.91 L232.69,449.16 L233.65,449.42 L234.61,448.80 L235.58,449.51 L236.54,449.78 L237.51,449.86 L238.47,450.14 L239.44,449.63 L240.40,450.62 L241.36,451.28 L242.33,450.94 L243.29,451.69 L244.26,452.27 L245.22,453.16 L246.19,453.74 L247.15,454.52 L248.11,455.59 L249.08,455.64 L250.04,456.56 L251.01,457.53 L251.97,458.47 L252.94,459.40 L253.90,461.32 L254.86,462.25 L255.83,462.57 L256.79,464.10 L257.76,465.05 L258.72,466.21 L259.69,467.44 L260.65,468.94 L261.61,470.10 L262.58,471.12 L263.54,472.20 L264.51,473.60 L265.47,474.67 L266.44,476.38 L267.40,477.82 L268.36,478.76 L269.33,479.73 L270.29,481.10 L271.26,482.56 L272.22,484.05 L273.19,485.46 L274.15,486.29 L275.11,487.92 L276.08,488.92 L277.04,489.90 L278.01,490.98 L278.97,492.21 L279.94,493.50 L280.90,494.27 L281.86,495.56 L282.83,496.31 L283.79,497.04 L284.76,498.24 L285.72,499.26 L286.69,499.45 L287.65,500.58 L288.61,501.31 L289.58,502.45 L290.54,503.13 L291.51,503.15 L292.47,504.20 L293.44,504.57 L294.40,504.47 L295.36,505.04 L296.33,505.01 L297.29,505.96 L298.26,506.00 L299.22,506.37 L300.19,506.36 L301.15,506.27 L302.11,506.31 L303.08,506.05 L304.04,505.45 L305.01,505.73 L305.97,504.89 L306.94,504.72 L307.90,504.98 L308.86,503.83 L309.83,503.40 L310.79,502.88 L311.76,503.08 L312.72,501.74 L313.69,500.91 L314.65,501.00 L315.61,499.50 L316.58,499.41 L317.54,498.37 L318.51,497.63 L319.47,496.80 L320.44,495.45 L321.40,494.65 L322.36,492.84 L323.33,492.49 L324.29,491.12 L325.26,490.18 L326.22,488.41 L327.19,487.86 L328.15,486.84 L329.11,484.74 L330.08,483.77 L331.04,482.75 L332.01,481.75 L332.97,479.90 L333.94,478.56 L334.90,477.35" fill="none" stroke="#0a72c0" stroke-width="2.1" stroke-linejoin="round" stroke-linecap="round"/>
<line x1="163" y1="204.8" x2="184" y2="204.8" stroke="#000" stroke-width="2.9"/>
<path d="M183.1,199.70000000000002 L191.8,204.8 L183.1,209.9 Z" fill="#000"/>
<ellipse cx="174.5" cy="194.20000000000002" rx="2.9" ry="3.3" transform="rotate(28 174.5 194.20000000000002)" fill="none" stroke="#222" stroke-width="0.85"/>
<line x1="175.6" y1="188.20000000000002" x2="173.4" y2="199.4" stroke="#222" stroke-width="0.75"/>
<line x1="163" y1="479.3" x2="184" y2="479.3" stroke="#000" stroke-width="2.9"/>
<path d="M183.1,474.2 L191.8,479.3 L183.1,484.40000000000003 Z" fill="#000"/>
<ellipse cx="174.5" cy="467.2" rx="2.9" ry="3.3" transform="rotate(28 174.5 467.2)" fill="none" stroke="#222" stroke-width="0.85"/>
<line x1="175.6" y1="461.2" x2="173.4" y2="472.40000000000003" stroke="#222" stroke-width="0.75"/>
<rect x="396.2" y="44.5" width="265.3" height="183.6" fill="none" stroke="#333333" stroke-width="1.1"/>
<line x1="450.4" y1="228.1" x2="450.4" y2="225.4" stroke="#333333" stroke-width="1"/>
<line x1="503.6" y1="228.1" x2="503.6" y2="225.4" stroke="#333333" stroke-width="1"/>
<line x1="556.7" y1="228.1" x2="556.7" y2="225.4" stroke="#333333" stroke-width="1"/>
<line x1="609.9" y1="228.1" x2="609.9" y2="225.4" stroke="#333333" stroke-width="1"/>
<line x1="448.6" y1="44.5" x2="448.6" y2="47.2" stroke="#333333" stroke-width="1"/>
<line x1="502.2" y1="44.5" x2="502.2" y2="47.2" stroke="#333333" stroke-width="1"/>
<line x1="555.1" y1="44.5" x2="555.1" y2="47.2" stroke="#333333" stroke-width="1"/>
<line x1="608.1" y1="44.5" x2="608.1" y2="47.2" stroke="#333333" stroke-width="1"/>
<line x1="396.2" y1="105.8" x2="398.9" y2="105.8" stroke="#333333" stroke-width="1"/>
<line x1="661.5" y1="105.8" x2="658.8" y2="105.8" stroke="#333333" stroke-width="1"/>
<line x1="396.2" y1="167.0" x2="398.9" y2="167.0" stroke="#333333" stroke-width="1"/>
<line x1="661.5" y1="167.0" x2="658.8" y2="167.0" stroke="#333333" stroke-width="1"/>
<path d="M378.31,41.53 L379.14,41.53 L379.14,49.00 L378.31,49.00 L378.31,43.06 L377.44,43.81 L376.57,44.02 L376.57,43.22 L377.54,42.85 L378.12,42.11 Z" fill="#3a3a3a"/>
<text x="380.79999999999995" y="49.0" font-family="Liberation Sans" font-size="10.6" text-anchor="start" fill="#3a3a3a" textLength="5.4" lengthAdjust="spacingAndGlyphs" >0</text>
<text x="387.3" y="44.0" font-family="Liberation Sans" font-size="8.4" text-anchor="start" fill="#3a3a3a" textLength="4.0" lengthAdjust="spacingAndGlyphs" >0</text>
<path d="M378.31,102.83 L379.14,102.83 L379.14,110.30 L378.31,110.30 L378.31,104.36 L377.44,105.11 L376.57,105.32 L376.57,104.52 L377.54,104.15 L378.12,103.41 Z" fill="#3a3a3a"/>
<text x="380.79999999999995" y="110.3" font-family="Liberation Sans" font-size="10.6" text-anchor="start" fill="#3a3a3a" textLength="5.4" lengthAdjust="spacingAndGlyphs" >0</text>
<text x="386.6" y="105.3" font-family="Liberation Sans" font-size="8.4" text-anchor="start" fill="#3a3a3a" textLength="2.6" lengthAdjust="spacingAndGlyphs" >-</text>
<path d="M390.69,99.38 L391.37,99.38 L391.37,105.30 L390.69,105.30 L390.69,100.60 L389.98,101.18 L389.26,101.35 L389.26,100.72 L390.06,100.43 L390.53,99.84 Z" fill="#3a3a3a"/>
<path d="M378.31,164.03 L379.14,164.03 L379.14,171.50 L378.31,171.50 L378.31,165.56 L377.44,166.31 L376.57,166.52 L376.57,165.72 L377.54,165.35 L378.12,164.61 Z" fill="#3a3a3a"/>
<text x="380.79999999999995" y="171.5" font-family="Liberation Sans" font-size="10.6" text-anchor="start" fill="#3a3a3a" textLength="5.4" lengthAdjust="spacingAndGlyphs" >0</text>
<text x="386.6" y="166.5" font-family="Liberation Sans" font-size="8.4" text-anchor="start" fill="#3a3a3a" textLength="6.6" lengthAdjust="spacingAndGlyphs" >-2</text>
<path d="M378.31,225.13 L379.14,225.13 L379.14,232.60 L378.31,232.60 L378.31,226.66 L377.44,227.41 L376.57,227.62 L376.57,226.82 L377.54,226.45 L378.12,225.71 Z" fill="#3a3a3a"/>
<text x="380.79999999999995" y="232.6" font-family="Liberation Sans" font-size="10.6" text-anchor="start" fill="#3a3a3a" textLength="5.4" lengthAdjust="spacingAndGlyphs" >0</text>
<text x="386.6" y="227.6" font-family="Liberation Sans" font-size="8.4" text-anchor="start" fill="#3a3a3a" textLength="6.6" lengthAdjust="spacingAndGlyphs" >-3</text>
<path d="M392.36,237.23 L393.17,237.23 L393.17,244.70 L392.36,244.70 L392.36,238.76 L391.50,239.51 L390.64,239.72 L390.64,238.92 L391.60,238.55 L392.17,237.81 Z" fill="#3a3a3a"/>
<text x="394.8" y="244.7" font-family="Liberation Sans" font-size="10.6" text-anchor="start" fill="#3a3a3a" textLength="5.3" lengthAdjust="spacingAndGlyphs" >0</text>
<text x="400.8" y="240.0" font-family="Liberation Sans" font-size="8.4" text-anchor="start" fill="#3a3a3a" textLength="4.3" lengthAdjust="spacingAndGlyphs" >0</text>
<path d="M439.96,237.23 L440.77,237.23 L440.77,244.70 L439.96,244.70 L439.96,238.76 L439.10,239.51 L438.24,239.72 L438.24,238.92 L439.20,238.55 L439.77,237.81 Z" fill="#3a3a3a"/>
<text x="442.40000000000003" y="244.7" font-family="Liberation Sans" font-size="10.6" text-anchor="start" fill="#3a3a3a" textLength="5.3" lengthAdjust="spacingAndGlyphs" >0</text>
<path d="M449.69,234.08 L450.37,234.08 L450.37,240.00 L449.69,240.00 L449.69,235.30 L448.98,235.88 L448.26,236.05 L448.26,235.42 L449.06,235.13 L449.53,234.54 Z" fill="#3a3a3a"/>
<path d="M500.26,237.23 L501.07,237.23 L501.07,244.70 L500.26,244.70 L500.26,238.76 L499.40,239.51 L498.54,239.72 L498.54,238.92 L499.50,238.55 L500.07,237.81 Z" fill="#3a3a3a"/>
<text x="502.7" y="244.7" font-family="Liberation Sans" font-size="10.6" text-anchor="start" fill="#3a3a3a" textLength="5.3" lengthAdjust="spacingAndGlyphs" >0</text>
<text x="508.7" y="240.0" font-family="Liberation Sans" font-size="8.4" text-anchor="start" fill="#3a3a3a" textLength="4.3" lengthAdjust="spacingAndGlyphs" >2</text>
<path d="M547.76,237.23 L548.57,237.23 L548.57,244.70 L547.76,244.70 L547.76,238.76 L546.90,239.51 L546.04,239.72 L546.04,238.92 L547.00,238.55 L547.57,237.81 Z" fill="#3a3a3a"/>
<text x="550.1999999999999" y="244.7" font-family="Liberation Sans" font-size="10.6" text-anchor="start" fill="#3a3a3a" textLength="5.3" lengthAdjust="spacingAndGlyphs" >0</text>
<text x="556.1999999999999" y="240.0" font-family="Liberation Sans" font-size="8.4" text-anchor="start" fill="#3a3a3a" textLength="4.3" lengthAdjust="spacingAndGlyphs" >3</text>
<path d="M601.36,237.23 L602.17,237.23 L602.17,244.70 L601.36,244.70 L601.36,238.76 L600.50,239.51 L599.64,239.72 L599.64,238.92 L600.60,238.55 L601.17,237.81 Z" fill="#3a3a3a"/>
<text x="603.8" y="244.7" font-family="Liberation Sans" font-size="10.6" text-anchor="start" fill="#3a3a3a" textLength="5.3" lengthAdjust="spacingAndGlyphs" >0</text>
<text x="609.8" y="240.0" font-family="Liberation Sans" font-size="8.4" text-anchor="start" fill="#3a3a3a" textLength="4.3" lengthAdjust="spacingAndGlyphs" >4</text>
<path d="M654.66,237.23 L655.47,237.23 L655.47,244.70 L654.66,244.70 L654.66,238.76 L653.80,239.51 L652.94,239.72 L652.94,238.92 L653.90,238.55 L654.47,237.81 Z" fill="#3a3a3a"/>
<text x="657.0999999999999" y="244.7" font-family="Liberation Sans" font-size="10.6" text-anchor="start" fill="#3a3a3a" textLength="5.3" lengthAdjust="spacingAndGlyphs" >0</text>
<text x="663.0999999999999" y="240.0" font-family="Liberation Sans" font-size="8.4" text-anchor="start" fill="#3a3a3a" textLength="4.3" lengthAdjust="spacingAndGlyphs" >5</text>
<text x="0" y="0" transform="translate(435.4 30.8) scale(0.9 1.13)" font-family="Liberation Sans" font-size="8.2" fill="#1a1a1a" stroke="#1a1a1a" stroke-width="0.12" textLength="212.67" lengthAdjust="spacing">RMSE vs Network Size for Different Jitter (<tspan font-family="Liberation Serif" font-style="italic">σ</tspan>) Scaling</text>
<text x="0" y="0" font-family="Liberation Sans" font-size="8.6" fill="#222" text-anchor="middle" textLength="22.6" lengthAdjust="spacingAndGlyphs" transform="translate(372.0,136.8) rotate(-90)" stroke="#222" stroke-width="0.15">RMSE</text>
<text x="0" y="0" transform="translate(489 257.1) scale(0.9 1.08)" font-family="Liberation Sans" font-size="8.9" fill="#222" stroke="#222" stroke-width="0.15" textLength="58.56" lengthAdjust="spacing">Network Size</text>
<line x1="507.72" y1="85.20" x2="635.88" y2="97.80" stroke="#22eeff" stroke-width="1.4"/>
<line x1="507.72" y1="65.40" x2="635.88" y2="163.80" stroke="#22e022" stroke-width="1.3"/>
<line x1="507.72" y1="70.80" x2="635.88" y2="221.60" stroke="#ff0000" stroke-width="1.3"/>
<line x1="507.72" y1="76.00" x2="635.88" y2="218.60" stroke="#ffb400" stroke-width="1.3"/>
<circle cx="459.66" cy="52.60" r="2.3" fill="#14e6f0" stroke="#111" stroke-width="0.8"/>
<circle cx="475.68" cy="54.60" r="2.3" fill="#14e6f0" stroke="#111" stroke-width="0.8"/>
<circle cx="491.70" cy="54.00" r="2.3" fill="#14e6f0" stroke="#111" stroke-width="0.8"/>
<circle cx="491.70" cy="55.80" r="2.3" fill="#14e6f0" stroke="#111" stroke-width="0.8"/>
<circle cx="507.72" cy="58.80" r="2.3" fill="#14e6f0" stroke="#111" stroke-width="0.8"/>
<circle cx="507.72" cy="61.00" r="2.3" fill="#14e6f0" stroke="#111" stroke-width="0.8"/>
<circle cx="507.72" cy="63.20" r="2.3" fill="#14e6f0" stroke="#111" stroke-width="0.8"/>
<circle cx="523.74" cy="62.30" r="2.3" fill="#14e6f0" stroke="#111" stroke-width="0.8"/>
<circle cx="523.74" cy="64.50" r="2.3" fill="#14e6f0" stroke="#111" stroke-width="0.8"/>
<circle cx="523.74" cy="66.60" r="2.3" fill="#14e6f0" stroke="#111" stroke-width="0.8"/>
<circle cx="523.74" cy="69.00" r="2.3" fill="#14e6f0" stroke="#111" stroke-width="0.8"/>
<circle cx="539.76" cy="71.00" r="2.3" fill="#14e6f0" stroke="#111" stroke-width="0.8"/>
<circle cx="539.76" cy="73.60" r="2.3" fill="#14e6f0" stroke="#111" stroke-width="0.8"/>
<circle cx="539.76" cy="76.60" r="2.3" fill="#14e6f0" stroke="#111" stroke-width="0.8"/>
<circle cx="555.78" cy="78.10" r="2.3" fill="#14e6f0" stroke="#111" stroke-width="0.8"/>
<circle cx="555.78" cy="79.80" r="2.3" fill="#14e6f0" stroke="#111" stroke-width="0.8"/>
<circle cx="555.78" cy="81.40" r="2.3" fill="#14e6f0" stroke="#111" stroke-width="0.8"/>
<circle cx="571.80" cy="84.00" r="2.3" fill="#14e6f0" stroke="#111" stroke-width="0.8"/>
<circle cx="571.80" cy="86.50" r="2.3" fill="#14e6f0" stroke="#111" stroke-width="0.8"/>
<circle cx="571.80" cy="89.10" r="2.3" fill="#14e6f0" stroke="#111" stroke-width="0.8"/>
<circle cx="587.82" cy="90.20" r="2.3" fill="#14e6f0" stroke="#111" stroke-width="0.8"/>
<circle cx="587.82" cy="92.40" r="2.3" fill="#14e6f0" stroke="#111" stroke-width="0.8"/>
<circle cx="603.84" cy="93.20" r="2.3" fill="#14e6f0" stroke="#111" stroke-width="0.8"/>
<circle cx="603.84" cy="95.40" r="2.3" fill="#14e6f0" stroke="#111" stroke-width="0.8"/>
<circle cx="619.86" cy="95.40" r="2.3" fill="#14e6f0" stroke="#111" stroke-width="0.8"/>
<circle cx="619.86" cy="98.20" r="2.3" fill="#14e6f0" stroke="#111" stroke-width="0.8"/>
<circle cx="635.88" cy="97.60" r="2.3" fill="#14e6f0" stroke="#111" stroke-width="0.8"/>
<circle cx="491.70" cy="60.00" r="2.3" fill="#10e010" stroke="#111" stroke-width="0.8"/>
<circle cx="491.70" cy="62.00" r="2.3" fill="#10e010" stroke="#111" stroke-width="0.8"/>
<circle cx="507.72" cy="66.00" r="2.3" fill="#10e010" stroke="#111" stroke-width="0.8"/>
<circle cx="507.72" cy="68.20" r="2.3" fill="#10e010" stroke="#111" stroke-width="0.8"/>
<circle cx="507.72" cy="70.20" r="2.3" fill="#10e010" stroke="#111" stroke-width="0.8"/>
<circle cx="523.74" cy="75.50" r="2.3" fill="#10e010" stroke="#111" stroke-width="0.8"/>
<circle cx="523.74" cy="78.00" r="2.3" fill="#10e010" stroke="#111" stroke-width="0.8"/>
<circle cx="539.76" cy="87.60" r="2.3" fill="#10e010" stroke="#111" stroke-width="0.8"/>
<circle cx="539.76" cy="88.40" r="2.3" fill="#10e010" stroke="#111" stroke-width="0.8"/>
<circle cx="555.78" cy="98.20" r="2.3" fill="#10e010" stroke="#111" stroke-width="0.8"/>
<circle cx="555.78" cy="100.10" r="2.3" fill="#10e010" stroke="#111" stroke-width="0.8"/>
<circle cx="571.80" cy="112.00" r="2.3" fill="#10e010" stroke="#111" stroke-width="0.8"/>
<circle cx="571.80" cy="114.00" r="2.3" fill="#10e010" stroke="#111" stroke-width="0.8"/>
<circle cx="587.82" cy="124.40" r="2.3" fill="#10e010" stroke="#111" stroke-width="0.8"/>
<circle cx="587.82" cy="126.60" r="2.3" fill="#10e010" stroke="#111" stroke-width="0.8"/>
<circle cx="603.84" cy="138.60" r="2.3" fill="#10e010" stroke="#111" stroke-width="0.8"/>
<circle cx="603.84" cy="139.40" r="2.3" fill="#10e010" stroke="#111" stroke-width="0.8"/>
<circle cx="619.86" cy="151.90" r="2.3" fill="#10e010" stroke="#111" stroke-width="0.8"/>
<circle cx="635.88" cy="163.60" r="2.3" fill="#10e010" stroke="#111" stroke-width="0.8"/>
<circle cx="411.60" cy="54.40" r="2.3" fill="#ff1010" stroke="#111" stroke-width="0.8"/>
<circle cx="427.62" cy="55.80" r="2.3" fill="#ff1010" stroke="#111" stroke-width="0.8"/>
<circle cx="443.64" cy="55.00" r="2.3" fill="#ff1010" stroke="#111" stroke-width="0.8"/>
<circle cx="459.66" cy="57.20" r="2.3" fill="#ff1010" stroke="#111" stroke-width="0.8"/>
<circle cx="475.68" cy="60.80" r="2.3" fill="#ff1010" stroke="#111" stroke-width="0.8"/>
<circle cx="491.70" cy="67.80" r="2.3" fill="#ff1010" stroke="#111" stroke-width="0.8"/>
<circle cx="507.72" cy="80.40" r="2.3" fill="#ff1010" stroke="#111" stroke-width="0.8"/>
<circle cx="523.74" cy="94.60" r="2.3" fill="#ff1010" stroke="#111" stroke-width="0.8"/>
<circle cx="539.76" cy="110.40" r="2.3" fill="#ff1010" stroke="#111" stroke-width="0.8"/>
<circle cx="555.78" cy="128.60" r="2.3" fill="#ff1010" stroke="#111" stroke-width="0.8"/>
<circle cx="571.80" cy="147.20" r="2.3" fill="#ff1010" stroke="#111" stroke-width="0.8"/>
<circle cx="587.82" cy="165.60" r="2.3" fill="#ff1010" stroke="#111" stroke-width="0.8"/>
<circle cx="603.84" cy="184.00" r="2.3" fill="#ff1010" stroke="#111" stroke-width="0.8"/>
<circle cx="619.86" cy="202.40" r="2.3" fill="#ff1010" stroke="#111" stroke-width="0.8"/>
<circle cx="635.88" cy="221.40" r="2.3" fill="#ff1010" stroke="#111" stroke-width="0.8"/>
<circle cx="411.60" cy="54.10" r="2.3" fill="#f2b000" stroke="#111" stroke-width="0.8"/>
<circle cx="427.62" cy="54.00" r="2.3" fill="#f2b000" stroke="#111" stroke-width="0.8"/>
<circle cx="443.64" cy="54.60" r="2.3" fill="#f2b000" stroke="#111" stroke-width="0.8"/>
<circle cx="459.66" cy="55.80" r="2.3" fill="#f2b000" stroke="#111" stroke-width="0.8"/>
<circle cx="475.68" cy="58.40" r="2.3" fill="#f2b000" stroke="#111" stroke-width="0.8"/>
<circle cx="475.68" cy="61.00" r="2.3" fill="#f2b000" stroke="#111" stroke-width="0.8"/>
<circle cx="491.70" cy="64.60" r="2.3" fill="#f2b000" stroke="#111" stroke-width="0.8"/>
<circle cx="491.70" cy="67.60" r="2.3" fill="#f2b000" stroke="#111" stroke-width="0.8"/>
<circle cx="507.72" cy="75.00" r="2.3" fill="#f2b000" stroke="#111" stroke-width="0.8"/>
<circle cx="507.72" cy="77.60" r="2.3" fill="#f2b000" stroke="#111" stroke-width="0.8"/>
<circle cx="507.72" cy="79.60" r="2.3" fill="#f2b000" stroke="#111" stroke-width="0.8"/>
<circle cx="523.74" cy="91.60" r="2.3" fill="#f2b000" stroke="#111" stroke-width="0.8"/>
<circle cx="523.74" cy="94.00" r="2.3" fill="#f2b000" stroke="#111" stroke-width="0.8"/>
<circle cx="539.76" cy="109.40" r="2.3" fill="#f2b000" stroke="#111" stroke-width="0.8"/>
<circle cx="555.78" cy="128.00" r="2.3" fill="#f2b000" stroke="#111" stroke-width="0.8"/>
<circle cx="571.80" cy="146.60" r="2.3" fill="#f2b000" stroke="#111" stroke-width="0.8"/>
<circle cx="587.82" cy="164.90" r="2.3" fill="#f2b000" stroke="#111" stroke-width="0.8"/>
<circle cx="603.84" cy="183.20" r="2.3" fill="#f2b000" stroke="#111" stroke-width="0.8"/>
<circle cx="619.86" cy="201.60" r="2.3" fill="#f2b000" stroke="#111" stroke-width="0.8"/>
<circle cx="635.88" cy="218.40" r="2.3" fill="#f2b000" stroke="#111" stroke-width="0.8"/>
<circle cx="419.50" cy="93.30" r="3.0" fill="#22eeff" stroke="#111" stroke-width="0.7"/>
<circle cx="419.50" cy="107.20" r="3.0" fill="#00e000" stroke="#111" stroke-width="0.7"/>
<circle cx="419.50" cy="121.40" r="3.0" fill="#f8ebbe" stroke="#cfc090" stroke-width="0.7"/>
<circle cx="419.50" cy="135.50" r="3.0" fill="#ee0000" stroke="#111" stroke-width="0.7"/>
<text x="426.59999999999997" y="95.5" font-family="Liberation Serif" font-size="9.8" text-anchor="start" fill="#333" font-style="italic" textLength="5.0" lengthAdjust="spacingAndGlyphs" stroke="#333" stroke-width="0.13">σ</text>
<text x="434.8" y="96.2" font-family="Liberation Serif" font-size="9.4" text-anchor="start" fill="#2a2a2a" textLength="6.6" lengthAdjust="spacingAndGlyphs" stroke="#2a2a2a" stroke-width="0.04">=</text>
<text x="443.6" y="95.6" font-family="Liberation Serif" font-size="8.8" text-anchor="start" fill="#333" textLength="10.8" lengthAdjust="spacingAndGlyphs" stroke="#333" stroke-width="0.13">0.1</text>
<text x="455.6" y="95.6" font-family="Liberation Serif" font-size="8.8" text-anchor="start" fill="#333" font-style="italic" textLength="4.0" lengthAdjust="spacingAndGlyphs" stroke="#333" stroke-width="0.13">s</text>
<text x="426.59999999999997" y="109.39999999999999" font-family="Liberation Serif" font-size="9.8" text-anchor="start" fill="#333" font-style="italic" textLength="5.0" lengthAdjust="spacingAndGlyphs" stroke="#333" stroke-width="0.13">σ</text>
<text x="434.8" y="110.1" font-family="Liberation Serif" font-size="9.4" text-anchor="start" fill="#2a2a2a" textLength="6.6" lengthAdjust="spacingAndGlyphs" stroke="#2a2a2a" stroke-width="0.04">=</text>
<text x="445.2" y="105.2" font-family="Liberation Serif" font-size="5.4" text-anchor="start" fill="#444" textLength="10.6" lengthAdjust="spacingAndGlyphs" stroke="#444" stroke-width="0.13">0.1s</text>
<line x1="444.80" y1="106.20" x2="456.60" y2="106.20" stroke="#555" stroke-width="0.5"/>
<text x="446.5" y="112.0" font-family="Liberation Serif" font-size="6.0" text-anchor="start" fill="#444" textLength="4.0" lengthAdjust="spacingAndGlyphs" stroke="#444" stroke-width="0.13">√</text>
<text x="450.6" y="112.0" font-family="Liberation Serif" font-size="6.0" text-anchor="start" fill="#444" font-style="italic" textLength="5.4" lengthAdjust="spacingAndGlyphs" stroke="#444" stroke-width="0.13">N</text>
<line x1="450.30" y1="107.30" x2="456.40" y2="107.30" stroke="#666" stroke-width="0.45"/>
<text x="426.59999999999997" y="123.6" font-family="Liberation Serif" font-size="9.8" text-anchor="start" fill="#333" font-style="italic" textLength="5.0" lengthAdjust="spacingAndGlyphs" stroke="#333" stroke-width="0.13">σ</text>
<text x="434.8" y="124.3" font-family="Liberation Serif" font-size="9.4" text-anchor="start" fill="#2a2a2a" textLength="6.6" lengthAdjust="spacingAndGlyphs" stroke="#2a2a2a" stroke-width="0.04">=</text>
<text x="445.2" y="119.4" font-family="Liberation Serif" font-size="5.4" text-anchor="start" fill="#444" textLength="10.6" lengthAdjust="spacingAndGlyphs" stroke="#444" stroke-width="0.13">0.1s</text>
<line x1="444.80" y1="120.40" x2="456.60" y2="120.40" stroke="#555" stroke-width="0.5"/>
<text x="447.6" y="126.2" font-family="Liberation Serif" font-size="6.0" text-anchor="start" fill="#444" font-style="italic" textLength="5.6" lengthAdjust="spacingAndGlyphs" stroke="#444" stroke-width="0.13">N</text>
<text x="426.59999999999997" y="137.7" font-family="Liberation Serif" font-size="9.8" text-anchor="start" fill="#333" font-style="italic" textLength="5.0" lengthAdjust="spacingAndGlyphs" stroke="#333" stroke-width="0.13">σ</text>
<text x="434.8" y="138.4" font-family="Liberation Serif" font-size="9.4" text-anchor="start" fill="#2a2a2a" textLength="6.6" lengthAdjust="spacingAndGlyphs" stroke="#2a2a2a" stroke-width="0.04">=</text>
<text x="443.6" y="138.1" font-family="Liberation Serif" font-size="8.6" text-anchor="start" fill="#333" stroke="#333" stroke-width="0.13">0</text>
<line x1="413.30" y1="159.40" x2="425.30" y2="159.40" stroke="#22eeff" stroke-width="1.6"/>
<text x="426.6" y="162.1" font-family="Liberation Serif" font-size="8.6" text-anchor="start" fill="#333" textLength="25.8" lengthAdjust="spacingAndGlyphs" stroke="#333" stroke-width="0.13">RMSE</text>
<path d="M458.90,158.20 C456.38,158.20 456.10,161.80 454.53,161.80 C453.64,161.80 453.30,160.90 453.30,160.00 C453.30,159.10 453.64,158.20 454.53,158.20 C456.10,158.20 456.38,161.80 458.90,161.80" fill="none" stroke="#333" stroke-width="0.75"/>
<text x="462.2" y="162.1" font-family="Liberation Serif" font-size="9.2" text-anchor="start" fill="#333" font-style="italic" textLength="7.9" lengthAdjust="spacingAndGlyphs" stroke="#333" stroke-width="0.05">N</text>
<line x1="471.20" y1="157.50" x2="474.70" y2="157.50" stroke="#333" stroke-width="0.7"/>
<text x="475.5" y="159.5" font-family="Liberation Sans" font-size="6.8" text-anchor="start" fill="#333" textLength="17.6" lengthAdjust="spacingAndGlyphs" stroke="#333" stroke-width="0.12">0.085</text>
<line x1="413.30" y1="171.90" x2="425.30" y2="171.90" stroke="#22e022" stroke-width="1.6"/>
<text x="426.6" y="174.6" font-family="Liberation Serif" font-size="8.6" text-anchor="start" fill="#333" textLength="25.8" lengthAdjust="spacingAndGlyphs" stroke="#333" stroke-width="0.13">RMSE</text>
<path d="M458.90,170.70 C456.38,170.70 456.10,174.30 454.53,174.30 C453.64,174.30 453.30,173.40 453.30,172.50 C453.30,171.60 453.64,170.70 454.53,170.70 C456.10,170.70 456.38,174.30 458.90,174.30" fill="none" stroke="#333" stroke-width="0.75"/>
<text x="462.2" y="174.6" font-family="Liberation Serif" font-size="9.2" text-anchor="start" fill="#333" font-style="italic" textLength="7.9" lengthAdjust="spacingAndGlyphs" stroke="#333" stroke-width="0.05">N</text>
<line x1="471.20" y1="170.00" x2="474.70" y2="170.00" stroke="#333" stroke-width="0.7"/>
<text x="475.5" y="172.0" font-family="Liberation Sans" font-size="6.8" text-anchor="start" fill="#333" textLength="17.6" lengthAdjust="spacingAndGlyphs" stroke="#333" stroke-width="0.12">0.666</text>
<line x1="413.30" y1="184.40" x2="425.30" y2="184.40" stroke="#ffb400" stroke-width="1.6"/>
<text x="426.6" y="187.1" font-family="Liberation Serif" font-size="8.6" text-anchor="start" fill="#333" textLength="25.8" lengthAdjust="spacingAndGlyphs" stroke="#333" stroke-width="0.13">RMSE</text>
<path d="M458.90,183.20 C456.38,183.20 456.10,186.80 454.53,186.80 C453.64,186.80 453.30,185.90 453.30,185.00 C453.30,184.10 453.64,183.20 454.53,183.20 C456.10,183.20 456.38,186.80 458.90,186.80" fill="none" stroke="#333" stroke-width="0.75"/>
<text x="462.2" y="187.1" font-family="Liberation Serif" font-size="9.2" text-anchor="start" fill="#333" font-style="italic" textLength="7.9" lengthAdjust="spacingAndGlyphs" stroke="#333" stroke-width="0.05">N</text>
<line x1="471.20" y1="182.50" x2="474.70" y2="182.50" stroke="#333" stroke-width="0.7"/>
<text x="475.5" y="184.5" font-family="Liberation Sans" font-size="6.8" text-anchor="start" fill="#333" textLength="17.6" lengthAdjust="spacingAndGlyphs" stroke="#333" stroke-width="0.12">0.965</text>
<line x1="413.30" y1="197.10" x2="425.30" y2="197.10" stroke="#ff0000" stroke-width="1.6"/>
<text x="426.6" y="199.79999999999998" font-family="Liberation Serif" font-size="8.6" text-anchor="start" fill="#333" textLength="25.8" lengthAdjust="spacingAndGlyphs" stroke="#333" stroke-width="0.13">RMSE</text>
<path d="M458.90,195.90 C456.38,195.90 456.10,199.50 454.53,199.50 C453.64,199.50 453.30,198.60 453.30,197.70 C453.30,196.80 453.64,195.90 454.53,195.90 C456.10,195.90 456.38,199.50 458.90,199.50" fill="none" stroke="#333" stroke-width="0.75"/>
<text x="462.2" y="199.79999999999998" font-family="Liberation Serif" font-size="9.2" text-anchor="start" fill="#333" font-style="italic" textLength="7.9" lengthAdjust="spacingAndGlyphs" stroke="#333" stroke-width="0.05">N</text>
<line x1="471.20" y1="195.20" x2="474.70" y2="195.20" stroke="#333" stroke-width="0.7"/>
<text x="475.5" y="197.2" font-family="Liberation Sans" font-size="6.8" text-anchor="start" fill="#333" textLength="17.6" lengthAdjust="spacingAndGlyphs" stroke="#333" stroke-width="0.12">1.022</text>
<rect x="396.9" y="325.6" width="265.9" height="184.0" fill="none" stroke="#333333" stroke-width="1.1"/>
<line x1="450.3" y1="509.6" x2="450.3" y2="506.90000000000003" stroke="#333333" stroke-width="1"/>
<line x1="503.5" y1="509.6" x2="503.5" y2="506.90000000000003" stroke="#333333" stroke-width="1"/>
<line x1="556.7" y1="509.6" x2="556.7" y2="506.90000000000003" stroke="#333333" stroke-width="1"/>
<line x1="609.9" y1="509.6" x2="609.9" y2="506.90000000000003" stroke="#333333" stroke-width="1"/>
<line x1="450.2" y1="325.6" x2="450.2" y2="328.3" stroke="#333333" stroke-width="1"/>
<line x1="503.2" y1="325.6" x2="503.2" y2="328.3" stroke="#333333" stroke-width="1"/>
<line x1="556.2" y1="325.6" x2="556.2" y2="328.3" stroke="#333333" stroke-width="1"/>
<line x1="609.5" y1="325.6" x2="609.5" y2="328.3" stroke="#333333" stroke-width="1"/>
<line x1="396.9" y1="386.9" x2="399.59999999999997" y2="386.9" stroke="#333333" stroke-width="1"/>
<line x1="662.8" y1="386.9" x2="660.0999999999999" y2="386.9" stroke="#333333" stroke-width="1"/>
<line x1="396.9" y1="448.3" x2="399.59999999999997" y2="448.3" stroke="#333333" stroke-width="1"/>
<line x1="662.8" y1="448.3" x2="660.0999999999999" y2="448.3" stroke="#333333" stroke-width="1"/>
<path d="M379.11,322.63 L379.94,322.63 L379.94,330.10 L379.11,330.10 L379.11,324.16 L378.24,324.91 L377.37,325.12 L377.37,324.32 L378.34,323.95 L378.92,323.21 Z" fill="#3a3a3a"/>
<text x="381.59999999999997" y="330.1" font-family="Liberation Sans" font-size="10.6" text-anchor="start" fill="#3a3a3a" textLength="5.4" lengthAdjust="spacingAndGlyphs" >0</text>
<text x="388.1" y="325.1" font-family="Liberation Sans" font-size="8.4" text-anchor="start" fill="#3a3a3a" textLength="4.0" lengthAdjust="spacingAndGlyphs" >0</text>
<path d="M379.11,383.93 L379.94,383.93 L379.94,391.40 L379.11,391.40 L379.11,385.46 L378.24,386.21 L377.37,386.42 L377.37,385.62 L378.34,385.25 L378.92,384.51 Z" fill="#3a3a3a"/>
<text x="381.59999999999997" y="391.4" font-family="Liberation Sans" font-size="10.6" text-anchor="start" fill="#3a3a3a" textLength="5.4" lengthAdjust="spacingAndGlyphs" >0</text>
<text x="387.40000000000003" y="386.4" font-family="Liberation Sans" font-size="8.4" text-anchor="start" fill="#3a3a3a" textLength="2.6" lengthAdjust="spacingAndGlyphs" >-</text>
<path d="M391.49,380.48 L392.17,380.48 L392.17,386.40 L391.49,386.40 L391.49,381.70 L390.78,382.28 L390.06,382.45 L390.06,381.82 L390.86,381.53 L391.33,380.94 Z" fill="#3a3a3a"/>
<path d="M379.11,445.33 L379.94,445.33 L379.94,452.80 L379.11,452.80 L379.11,446.86 L378.24,447.61 L377.37,447.82 L377.37,447.02 L378.34,446.65 L378.92,445.91 Z" fill="#3a3a3a"/>
<text x="381.59999999999997" y="452.8" font-family="Liberation Sans" font-size="10.6" text-anchor="start" fill="#3a3a3a" textLength="5.4" lengthAdjust="spacingAndGlyphs" >0</text>
<text x="387.40000000000003" y="447.8" font-family="Liberation Sans" font-size="8.4" text-anchor="start" fill="#3a3a3a" textLength="6.6" lengthAdjust="spacingAndGlyphs" >-2</text>
<path d="M379.11,506.63 L379.94,506.63 L379.94,514.10 L379.11,514.10 L379.11,508.16 L378.24,508.91 L377.37,509.12 L377.37,508.32 L378.34,507.95 L378.92,507.21 Z" fill="#3a3a3a"/>
<text x="381.59999999999997" y="514.1" font-family="Liberation Sans" font-size="10.6" text-anchor="start" fill="#3a3a3a" textLength="5.4" lengthAdjust="spacingAndGlyphs" >0</text>
<text x="387.40000000000003" y="509.1" font-family="Liberation Sans" font-size="8.4" text-anchor="start" fill="#3a3a3a" textLength="6.6" lengthAdjust="spacingAndGlyphs" >-3</text>
<path d="M392.36,518.73 L393.17,518.73 L393.17,526.20 L392.36,526.20 L392.36,520.26 L391.50,521.01 L390.64,521.22 L390.64,520.42 L391.60,520.05 L392.17,519.31 Z" fill="#3a3a3a"/>
<text x="394.8" y="526.2" font-family="Liberation Sans" font-size="10.6" text-anchor="start" fill="#3a3a3a" textLength="5.3" lengthAdjust="spacingAndGlyphs" >0</text>
<text x="400.8" y="521.5" font-family="Liberation Sans" font-size="8.4" text-anchor="start" fill="#3a3a3a" textLength="4.3" lengthAdjust="spacingAndGlyphs" >0</text>
<path d="M439.96,518.73 L440.77,518.73 L440.77,526.20 L439.96,526.20 L439.96,520.26 L439.10,521.01 L438.24,521.22 L438.24,520.42 L439.20,520.05 L439.77,519.31 Z" fill="#3a3a3a"/>
<text x="442.40000000000003" y="526.2" font-family="Liberation Sans" font-size="10.6" text-anchor="start" fill="#3a3a3a" textLength="5.3" lengthAdjust="spacingAndGlyphs" >0</text>
<path d="M449.69,515.58 L450.37,515.58 L450.37,521.50 L449.69,521.50 L449.69,516.80 L448.98,517.38 L448.26,517.55 L448.26,516.92 L449.06,516.63 L449.53,516.04 Z" fill="#3a3a3a"/>
<path d="M500.26,518.73 L501.07,518.73 L501.07,526.20 L500.26,526.20 L500.26,520.26 L499.40,521.01 L498.54,521.22 L498.54,520.42 L499.50,520.05 L500.07,519.31 Z" fill="#3a3a3a"/>
<text x="502.7" y="526.2" font-family="Liberation Sans" font-size="10.6" text-anchor="start" fill="#3a3a3a" textLength="5.3" lengthAdjust="spacingAndGlyphs" >0</text>
<text x="508.7" y="521.5" font-family="Liberation Sans" font-size="8.4" text-anchor="start" fill="#3a3a3a" textLength="4.3" lengthAdjust="spacingAndGlyphs" >2</text>
<path d="M547.76,518.73 L548.57,518.73 L548.57,526.20 L547.76,526.20 L547.76,520.26 L546.90,521.01 L546.04,521.22 L546.04,520.42 L547.00,520.05 L547.57,519.31 Z" fill="#3a3a3a"/>
<text x="550.1999999999999" y="526.2" font-family="Liberation Sans" font-size="10.6" text-anchor="start" fill="#3a3a3a" textLength="5.3" lengthAdjust="spacingAndGlyphs" >0</text>
<text x="556.1999999999999" y="521.5" font-family="Liberation Sans" font-size="8.4" text-anchor="start" fill="#3a3a3a" textLength="4.3" lengthAdjust="spacingAndGlyphs" >3</text>
<path d="M601.36,518.73 L602.17,518.73 L602.17,526.20 L601.36,526.20 L601.36,520.26 L600.50,521.01 L599.64,521.22 L599.64,520.42 L600.60,520.05 L601.17,519.31 Z" fill="#3a3a3a"/>
<text x="603.8" y="526.2" font-family="Liberation Sans" font-size="10.6" text-anchor="start" fill="#3a3a3a" textLength="5.3" lengthAdjust="spacingAndGlyphs" >0</text>
<text x="609.8" y="521.5" font-family="Liberation Sans" font-size="8.4" text-anchor="start" fill="#3a3a3a" textLength="4.3" lengthAdjust="spacingAndGlyphs" >4</text>
<path d="M654.66,518.73 L655.47,518.73 L655.47,526.20 L654.66,526.20 L654.66,520.26 L653.80,521.01 L652.94,521.22 L652.94,520.42 L653.90,520.05 L654.47,519.31 Z" fill="#3a3a3a"/>
<text x="657.0999999999999" y="526.2" font-family="Liberation Sans" font-size="10.6" text-anchor="start" fill="#3a3a3a" textLength="5.3" lengthAdjust="spacingAndGlyphs" >0</text>
<text x="663.0999999999999" y="521.5" font-family="Liberation Sans" font-size="8.4" text-anchor="start" fill="#3a3a3a" textLength="4.3" lengthAdjust="spacingAndGlyphs" >5</text>
<text x="0" y="0" transform="translate(439.7 312.7) scale(0.9 1.13)" font-family="Liberation Sans" font-size="8.2" fill="#1a1a1a" stroke="#1a1a1a" stroke-width="0.12" textLength="219.33" lengthAdjust="spacing">RMSE vs Network Size for Different Failure (<tspan font-family="Liberation Serif" font-style="italic">p<tspan font-size="5.5" dy="1.2">F</tspan></tspan><tspan dy="-1.2">) Scaling</tspan></text>
<text x="0" y="0" font-family="Liberation Sans" font-size="8.6" fill="#222" text-anchor="middle" textLength="22.6" lengthAdjust="spacingAndGlyphs" transform="translate(371.3,417.7) rotate(-90)" stroke="#222" stroke-width="0.15">RMSE</text>
<text x="0" y="0" transform="translate(489.7 538.6) scale(0.9 1.08)" font-family="Liberation Sans" font-size="8.9" fill="#222" stroke="#222" stroke-width="0.15" textLength="58.56" lengthAdjust="spacing">Network Size</text>
<line x1="396.9" y1="417.4" x2="399.59999999999997" y2="417.4" stroke="#333333" stroke-width="1"/>
<line x1="508.92" y1="417.30" x2="637.08" y2="436.60" stroke="#22eeff" stroke-width="1.4"/>
<line x1="508.92" y1="351.50" x2="637.08" y2="502.70" stroke="#ff0000" stroke-width="1.7"/>
<line x1="508.92" y1="354.90" x2="637.08" y2="502.60" stroke="#22e022" stroke-width="1.7"/>
<circle cx="492.90" cy="344.60" r="2.3" fill="#14e6f0" stroke="#111" stroke-width="0.8"/>
<circle cx="508.92" cy="354.40" r="2.3" fill="#14e6f0" stroke="#111" stroke-width="0.8"/>
<circle cx="524.94" cy="370.40" r="2.3" fill="#14e6f0" stroke="#111" stroke-width="0.8"/>
<circle cx="540.96" cy="383.80" r="2.3" fill="#14e6f0" stroke="#111" stroke-width="0.8"/>
<circle cx="540.96" cy="386.60" r="2.3" fill="#14e6f0" stroke="#111" stroke-width="0.8"/>
<circle cx="556.98" cy="399.40" r="2.3" fill="#14e6f0" stroke="#111" stroke-width="0.8"/>
<circle cx="556.98" cy="401.60" r="2.3" fill="#14e6f0" stroke="#111" stroke-width="0.8"/>
<circle cx="556.98" cy="403.80" r="2.3" fill="#14e6f0" stroke="#111" stroke-width="0.8"/>
<circle cx="573.00" cy="409.70" r="2.3" fill="#14e6f0" stroke="#111" stroke-width="0.8"/>
<circle cx="573.00" cy="412.30" r="2.3" fill="#14e6f0" stroke="#111" stroke-width="0.8"/>
<circle cx="573.00" cy="416.80" r="2.3" fill="#14e6f0" stroke="#111" stroke-width="0.8"/>
<circle cx="589.02" cy="420.10" r="2.3" fill="#14e6f0" stroke="#111" stroke-width="0.8"/>
<circle cx="589.02" cy="423.30" r="2.3" fill="#14e6f0" stroke="#111" stroke-width="0.8"/>
<circle cx="589.02" cy="426.50" r="2.3" fill="#14e6f0" stroke="#111" stroke-width="0.8"/>
<circle cx="605.04" cy="428.50" r="2.3" fill="#14e6f0" stroke="#111" stroke-width="0.8"/>
<circle cx="605.04" cy="431.70" r="2.3" fill="#14e6f0" stroke="#111" stroke-width="0.8"/>
<circle cx="605.04" cy="435.00" r="2.3" fill="#14e6f0" stroke="#111" stroke-width="0.8"/>
<circle cx="621.06" cy="431.70" r="2.3" fill="#14e6f0" stroke="#111" stroke-width="0.8"/>
<circle cx="621.06" cy="434.30" r="2.3" fill="#14e6f0" stroke="#111" stroke-width="0.8"/>
<circle cx="621.06" cy="437.50" r="2.3" fill="#14e6f0" stroke="#111" stroke-width="0.8"/>
<circle cx="621.06" cy="439.50" r="2.3" fill="#14e6f0" stroke="#111" stroke-width="0.8"/>
<circle cx="637.08" cy="435.00" r="2.3" fill="#14e6f0" stroke="#111" stroke-width="0.8"/>
<circle cx="637.08" cy="437.50" r="2.3" fill="#14e6f0" stroke="#111" stroke-width="0.8"/>
<circle cx="412.80" cy="336.00" r="2.3" fill="#9a5812" stroke="#111" stroke-width="0.8"/>
<circle cx="412.80" cy="335.20" r="2.3" fill="#5c8a14" stroke="#111" stroke-width="0.8"/>
<circle cx="428.82" cy="337.80" r="2.3" fill="#c8200a" stroke="#111" stroke-width="0.8"/>
<circle cx="428.82" cy="335.50" r="2.3" fill="#5c8a14" stroke="#111" stroke-width="0.8"/>
<circle cx="444.84" cy="336.60" r="2.3" fill="#9a5812" stroke="#111" stroke-width="0.8"/>
<circle cx="444.84" cy="336.00" r="2.3" fill="#5c8a14" stroke="#111" stroke-width="0.8"/>
<circle cx="460.86" cy="336.40" r="2.3" fill="#c8200a" stroke="#111" stroke-width="0.8"/>
<circle cx="460.86" cy="339.40" r="2.3" fill="#c8200a" stroke="#111" stroke-width="0.8"/>
<circle cx="460.86" cy="337.80" r="2.3" fill="#5c8a14" stroke="#111" stroke-width="0.8"/>
<circle cx="476.88" cy="338.60" r="2.3" fill="#9a5812" stroke="#111" stroke-width="0.8"/>
<circle cx="476.88" cy="342.80" r="2.3" fill="#c8200a" stroke="#111" stroke-width="0.8"/>
<circle cx="476.88" cy="341.20" r="2.3" fill="#5c8a14" stroke="#111" stroke-width="0.8"/>
<circle cx="492.90" cy="346.60" r="2.3" fill="#9a5812" stroke="#111" stroke-width="0.8"/>
<circle cx="492.90" cy="349.80" r="2.3" fill="#c8200a" stroke="#111" stroke-width="0.8"/>
<circle cx="492.90" cy="348.60" r="2.3" fill="#5c8a14" stroke="#111" stroke-width="0.8"/>
<circle cx="508.92" cy="357.00" r="2.3" fill="#9a5812" stroke="#111" stroke-width="0.8"/>
<circle cx="508.92" cy="361.80" r="2.3" fill="#c8200a" stroke="#111" stroke-width="0.8"/>
<circle cx="508.92" cy="359.80" r="2.3" fill="#5c8a14" stroke="#111" stroke-width="0.8"/>
<circle cx="524.94" cy="373.00" r="2.3" fill="#9a5812" stroke="#111" stroke-width="0.8"/>
<circle cx="524.94" cy="377.00" r="2.3" fill="#c8200a" stroke="#111" stroke-width="0.8"/>
<circle cx="524.94" cy="375.40" r="2.3" fill="#5c8a14" stroke="#111" stroke-width="0.8"/>
<circle cx="540.96" cy="389.60" r="2.3" fill="#9a5812" stroke="#111" stroke-width="0.8"/>
<circle cx="540.96" cy="393.20" r="2.3" fill="#c8200a" stroke="#111" stroke-width="0.8"/>
<circle cx="540.96" cy="391.80" r="2.3" fill="#5c8a14" stroke="#111" stroke-width="0.8"/>
<circle cx="556.98" cy="408.40" r="2.3" fill="#9a5812" stroke="#111" stroke-width="0.8"/>
<circle cx="556.98" cy="409.80" r="2.3" fill="#c8200a" stroke="#111" stroke-width="0.8"/>
<circle cx="556.98" cy="408.80" r="2.3" fill="#5c8a14" stroke="#111" stroke-width="0.8"/>
<circle cx="573.00" cy="427.60" r="2.3" fill="#9a5812" stroke="#111" stroke-width="0.8"/>
<circle cx="573.00" cy="428.60" r="2.3" fill="#c8200a" stroke="#111" stroke-width="0.8"/>
<circle cx="573.00" cy="427.80" r="2.3" fill="#5c8a14" stroke="#111" stroke-width="0.8"/>
<circle cx="589.02" cy="446.20" r="2.3" fill="#9a5812" stroke="#111" stroke-width="0.8"/>
<circle cx="589.02" cy="447.00" r="2.3" fill="#c8200a" stroke="#111" stroke-width="0.8"/>
<circle cx="589.02" cy="446.00" r="2.3" fill="#5c8a14" stroke="#111" stroke-width="0.8"/>
<circle cx="605.04" cy="465.00" r="2.3" fill="#9a5812" stroke="#111" stroke-width="0.8"/>
<circle cx="605.04" cy="465.80" r="2.3" fill="#c8200a" stroke="#111" stroke-width="0.8"/>
<circle cx="605.04" cy="464.80" r="2.3" fill="#5c8a14" stroke="#111" stroke-width="0.8"/>
<circle cx="621.06" cy="483.80" r="2.3" fill="#9a5812" stroke="#111" stroke-width="0.8"/>
<circle cx="621.06" cy="484.60" r="2.3" fill="#c8200a" stroke="#111" stroke-width="0.8"/>
<circle cx="621.06" cy="483.60" r="2.3" fill="#5c8a14" stroke="#111" stroke-width="0.8"/>
<circle cx="637.08" cy="503.20" r="2.3" fill="#c8200a" stroke="#111" stroke-width="0.8"/>
<circle cx="637.08" cy="502.90" r="2.3" fill="#7a4a10" stroke="#111" stroke-width="0.8"/>
<circle cx="420.50" cy="376.50" r="3.0" fill="#22eeff" stroke="#111" stroke-width="0.7"/>
<circle cx="420.50" cy="388.90" r="3.0" fill="#00e000" stroke="#111" stroke-width="0.7"/>
<circle cx="420.50" cy="400.60" r="3.0" fill="#ee0000" stroke="#111" stroke-width="0.7"/>
<text x="427.3" y="379.0" font-family="Liberation Serif" font-size="9.6" text-anchor="start" fill="#333" font-style="italic" textLength="4.8" lengthAdjust="spacingAndGlyphs" stroke="#333" stroke-width="0.13">p</text>
<text x="432.2" y="380.3" font-family="Liberation Serif" font-size="6.2" text-anchor="start" fill="#333" font-style="italic" textLength="4.2" lengthAdjust="spacingAndGlyphs" stroke="#333" stroke-width="0.13">F</text>
<text x="440.4" y="379.3" font-family="Liberation Serif" font-size="9.4" text-anchor="start" fill="#2a2a2a" textLength="6.6" lengthAdjust="spacingAndGlyphs" stroke="#2a2a2a" stroke-width="0.04">=</text>
<text x="449.8" y="379.0" font-family="Liberation Serif" font-size="8.8" text-anchor="start" fill="#333" textLength="16.3" lengthAdjust="spacingAndGlyphs" stroke="#333" stroke-width="0.13">0.02</text>
<text x="427.3" y="391.4" font-family="Liberation Serif" font-size="9.6" text-anchor="start" fill="#333" font-style="italic" textLength="4.8" lengthAdjust="spacingAndGlyphs" stroke="#333" stroke-width="0.13">p</text>
<text x="432.2" y="392.7" font-family="Liberation Serif" font-size="6.2" text-anchor="start" fill="#333" font-style="italic" textLength="4.2" lengthAdjust="spacingAndGlyphs" stroke="#333" stroke-width="0.13">F</text>
<text x="440.4" y="391.7" font-family="Liberation Serif" font-size="9.4" text-anchor="start" fill="#2a2a2a" textLength="6.6" lengthAdjust="spacingAndGlyphs" stroke="#2a2a2a" stroke-width="0.04">=</text>
<text x="450.5" y="386.9" font-family="Liberation Serif" font-size="5.4" text-anchor="start" fill="#444" textLength="9.6" lengthAdjust="spacingAndGlyphs" stroke="#444" stroke-width="0.13">0.02</text>
<line x1="450.10" y1="387.90" x2="461.80" y2="387.90" stroke="#555" stroke-width="0.5"/>
<text x="451.0" y="393.8" font-family="Liberation Serif" font-size="6.0" text-anchor="start" fill="#444" textLength="4.0" lengthAdjust="spacingAndGlyphs" stroke="#444" stroke-width="0.13">√</text>
<text x="455.0" y="393.8" font-family="Liberation Serif" font-size="6.0" text-anchor="start" fill="#444" font-style="italic" textLength="5.4" lengthAdjust="spacingAndGlyphs" stroke="#444" stroke-width="0.13">N</text>
<line x1="454.70" y1="389.10" x2="460.80" y2="389.10" stroke="#666" stroke-width="0.45"/>
<text x="427.3" y="403.1" font-family="Liberation Serif" font-size="9.6" text-anchor="start" fill="#333" font-style="italic" textLength="4.8" lengthAdjust="spacingAndGlyphs" stroke="#333" stroke-width="0.13">p</text>
<text x="432.2" y="404.40000000000003" font-family="Liberation Serif" font-size="6.2" text-anchor="start" fill="#333" font-style="italic" textLength="4.2" lengthAdjust="spacingAndGlyphs" stroke="#333" stroke-width="0.13">F</text>
<text x="440.4" y="403.4" font-family="Liberation Serif" font-size="9.4" text-anchor="start" fill="#2a2a2a" textLength="6.6" lengthAdjust="spacingAndGlyphs" stroke="#2a2a2a" stroke-width="0.04">=</text>
<text x="449.8" y="403.1" font-family="Liberation Serif" font-size="8.8" text-anchor="start" fill="#333" textLength="4.3" lengthAdjust="spacingAndGlyphs" stroke="#333" stroke-width="0.13">0</text>
<line x1="414.10" y1="427.40" x2="426.10" y2="427.40" stroke="#22eeff" stroke-width="1.6"/>
<text x="427.40000000000003" y="430.09999999999997" font-family="Liberation Serif" font-size="8.6" text-anchor="start" fill="#333" textLength="25.8" lengthAdjust="spacingAndGlyphs" stroke="#333" stroke-width="0.13">RMSE</text>
<path d="M459.70,426.20 C457.18,426.20 456.90,429.80 455.33,429.80 C454.44,429.80 454.10,428.90 454.10,428.00 C454.10,427.10 454.44,426.20 455.33,426.20 C456.90,426.20 457.18,429.80 459.70,429.80" fill="none" stroke="#333" stroke-width="0.75"/>
<text x="463.0" y="430.09999999999997" font-family="Liberation Serif" font-size="9.2" text-anchor="start" fill="#333" font-style="italic" textLength="7.9" lengthAdjust="spacingAndGlyphs" stroke="#333" stroke-width="0.05">N</text>
<line x1="472.00" y1="425.50" x2="475.50" y2="425.50" stroke="#333" stroke-width="0.7"/>
<text x="476.3" y="427.5" font-family="Liberation Sans" font-size="6.8" text-anchor="start" fill="#333" textLength="17.6" lengthAdjust="spacingAndGlyphs" stroke="#333" stroke-width="0.12">0.130</text>
<line x1="414.10" y1="440.10" x2="426.10" y2="440.10" stroke="#22e022" stroke-width="1.6"/>
<text x="427.40000000000003" y="442.8" font-family="Liberation Serif" font-size="8.6" text-anchor="start" fill="#333" textLength="25.8" lengthAdjust="spacingAndGlyphs" stroke="#333" stroke-width="0.13">RMSE</text>
<path d="M459.70,438.90 C457.18,438.90 456.90,442.50 455.33,442.50 C454.44,442.50 454.10,441.60 454.10,440.70 C454.10,439.80 454.44,438.90 455.33,438.90 C456.90,438.90 457.18,442.50 459.70,442.50" fill="none" stroke="#333" stroke-width="0.75"/>
<text x="463.0" y="442.8" font-family="Liberation Serif" font-size="9.2" text-anchor="start" fill="#333" font-style="italic" textLength="7.9" lengthAdjust="spacingAndGlyphs" stroke="#333" stroke-width="0.05">N</text>
<line x1="472.00" y1="438.20" x2="475.50" y2="438.20" stroke="#333" stroke-width="0.7"/>
<text x="476.3" y="440.20000000000005" font-family="Liberation Sans" font-size="6.8" text-anchor="start" fill="#333" textLength="17.6" lengthAdjust="spacingAndGlyphs" stroke="#333" stroke-width="0.12">0.982</text>
<line x1="414.10" y1="452.60" x2="426.10" y2="452.60" stroke="#ff0000" stroke-width="1.6"/>
<text x="427.40000000000003" y="455.3" font-family="Liberation Serif" font-size="8.6" text-anchor="start" fill="#333" textLength="25.8" lengthAdjust="spacingAndGlyphs" stroke="#333" stroke-width="0.13">RMSE</text>
<path d="M459.70,451.40 C457.18,451.40 456.90,455.00 455.33,455.00 C454.44,455.00 454.10,454.10 454.10,453.20 C454.10,452.30 454.44,451.40 455.33,451.40 C456.90,451.40 457.18,455.00 459.70,455.00" fill="none" stroke="#333" stroke-width="0.75"/>
<text x="463.0" y="455.3" font-family="Liberation Serif" font-size="9.2" text-anchor="start" fill="#333" font-style="italic" textLength="7.9" lengthAdjust="spacingAndGlyphs" stroke="#333" stroke-width="0.05">N</text>
<line x1="472.00" y1="450.70" x2="475.50" y2="450.70" stroke="#333" stroke-width="0.7"/>
<text x="476.3" y="452.70000000000005" font-family="Liberation Sans" font-size="6.8" text-anchor="start" fill="#333" textLength="17.6" lengthAdjust="spacingAndGlyphs" stroke="#333" stroke-width="0.12">1.022</text>
</svg>
</body></html>
